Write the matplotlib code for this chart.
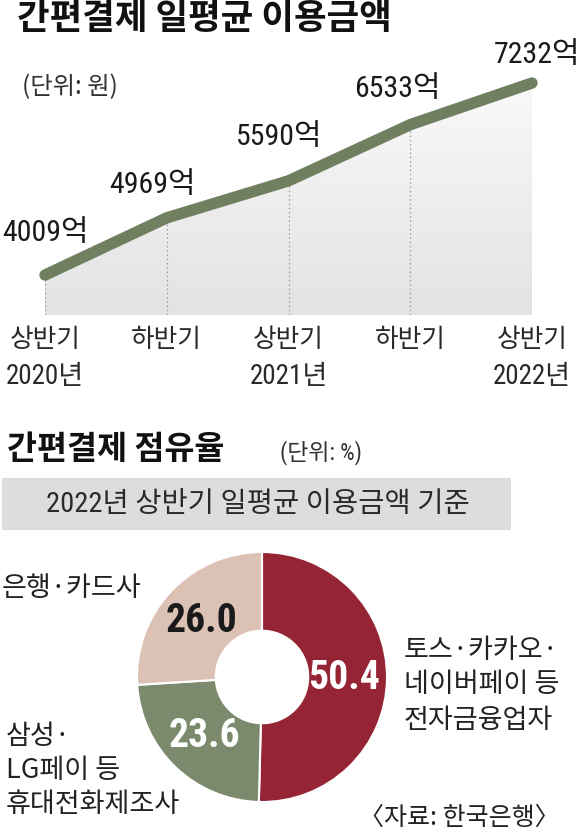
import matplotlib
matplotlib.use("Agg")
import matplotlib.pyplot as plt
import numpy as np
from matplotlib import font_manager
from matplotlib.patches import Rectangle
from matplotlib.colors import LinearSegmentedColormap

# ---------------- data ----------------
periods = ["상반기", "하반기", "상반기", "하반기", "상반기"]
years = ["2020년", "", "2021년", "", "2022년"]
amounts = [4009, 4969, 5590, 6533, 7232]          # 억 원
amount_labels = [f"{v}억" for v in amounts]

share_values = [50.4, 23.6, 26.0]
share_names = ["토스·카카오·\n네이버페이 등\n전자금융업자",
               "삼성·\nLG페이 등\n휴대전화제조사",
               "은행·카드사"]
share_colors = ["#952535", "#7b8a6c", "#dcc1b5"]
share_text_colors = ["white", "white", "#1a1a1a"]

title1 = "간편결제 일평균 이용금액"
unit1 = "(단위: 원)"
title2 = "간편결제 점유율"
unit2 = "(단위: %)"
box_text = "2022년 상반기 일평균 이용금액 기준"
source = "〈자료: 한국은행〉"

# ---------------- fonts ----------------
names = {f.name for f in font_manager.fontManager.ttflist}
COND = "Roboto Condensed" if "Roboto Condensed" in names else "DejaVu Sans"
KR = "Noto Sans CJK KR"
FAM = [COND, KR, "DejaVu Sans"]
plt.rcParams["font.family"] = FAM

W, H = 580, 840
fig = plt.figure(figsize=(W / 100, H / 100), dpi=100)
fig.patch.set_facecolor("white")


def fx(px):
    return px / W


def fy(py):
    return 1 - py / H


TXT = "#1a1a1a"

# ---------------- titles ----------------
fig.text(fx(17), fy(18), title1, fontsize=25.5, fontweight="bold", color="#111111",
         va="center", ha="left", family=[KR])
fig.text(fx(22), fy(87), unit1, fontsize=17.5, color="#333333", va="center", ha="left",
         family=[KR])

# ---------------- line chart ----------------
ax = fig.add_axes([fx(45), fy(315), 487 / W, 275 / H])
ax.set_xlim(0, 4)
ax.set_ylim(3338, 7954)
ax.axis("off")
x = np.arange(len(amounts))

# gradient fill under line
poly = ax.fill_between(x, amounts, 3338, facecolor="none", edgecolor="none")
cmap = LinearSegmentedColormap.from_list("g", ["#e3e3e3", "#fdfdfd"])
grad = np.linspace(0, 1, 256).reshape(-1, 1)
im = ax.imshow(grad, extent=[0, 4, 3338, 7954], origin="lower", aspect="auto",
               cmap=cmap, zorder=1)
im.set_clip_path(poly.get_paths()[0], transform=ax.transData)

ax.vlines(x, 3338, amounts, colors="#9a9a9a", linestyles=(0, (1.2, 2.2)), lw=0.9, zorder=2)
ax.plot(x, amounts, color="#6f7f60", lw=8.2, solid_capstyle="round",
        solid_joinstyle="round", clip_on=False, zorder=3)

label_offsets = [(0, 42), (-14, 33), (-9, 44), (-13, 36), (5, 28)]
for i, (lab, off) in enumerate(zip(amount_labels, label_offsets)):
    ax.annotate(lab, xy=(x[i], amounts[i]), xytext=off, textcoords="offset pixels",
                ha="center", va="center", fontsize=21.5, color=TXT,
                annotation_clip=False)

for i in range(len(periods)):
    ax.annotate(periods[i], xy=(x[i], 0), xycoords=("data", "axes fraction"),
                xytext=(0, -25), textcoords="offset pixels", ha="center", va="center",
                fontsize=18.5, color="#2a2a2a", annotation_clip=False)
    if years[i]:
        ax.annotate(years[i], xy=(x[i], 0), xycoords=("data", "axes fraction"),
                    xytext=(0, -62), textcoords="offset pixels", ha="center",
                    va="center", fontsize=19.5, color="#2a2a2a", annotation_clip=False)

# ---------------- share section ----------------
fig.text(fx(7), fy(450), title2, fontsize=23.5, fontweight="bold", color="#111111",
         va="center", ha="left", family=[KR])
fig.text(fx(280), fy(453), unit2, fontsize=16.5, color="#333333", va="center", ha="left")

fig.patches.append(Rectangle((fx(2), fy(530)), 509 / W, 52 / H, transform=fig.transFigure,
                             facecolor="#dddddd", edgecolor="none", zorder=0))
fig.text(fx(258), fy(505), box_text, fontsize=20.5, color="#2a2a2a", va="center",
         ha="center")

R = 125
cx, cy = 262, 677
pax = fig.add_axes([fx(cx - R), fy(cy + R), 2 * R / W, 2 * R / H])
wedges, _, autotexts = pax.pie(share_values, radius=1, startangle=90, counterclock=False,
                               colors=share_colors, autopct="%.1f", pctdistance=0.66,
                               wedgeprops=dict(width=0.63, edgecolor="white",
                                               linewidth=1.5))
pax.set_xlim(-1, 1)
pax.set_ylim(-1, 1)
pax.set_aspect("equal")
for t, c in zip(autotexts, share_text_colors):
    t.set_color(c)
    t.set_fontsize(28.5)
    t.set_fontweight("bold")
    t.set_family([COND, "DejaVu Sans"])

name_pos = [(404, 650, 35), (6, 737, 34), (2, 588, 34)]
for name, (px, py, lsp) in zip(share_names, name_pos):
    for j, line in enumerate(name.split("\n")):
        fig.text(fx(px), fy(py + j * lsp), line, fontsize=19.5, color="#222222",
                 va="center", ha="left", family=[KR])

fig.text(fx(560), fy(818), source, fontsize=18, color="#222222", va="center", ha="right",
         family=[KR])

fig.savefig("out.png", dpi=100, facecolor="white")
